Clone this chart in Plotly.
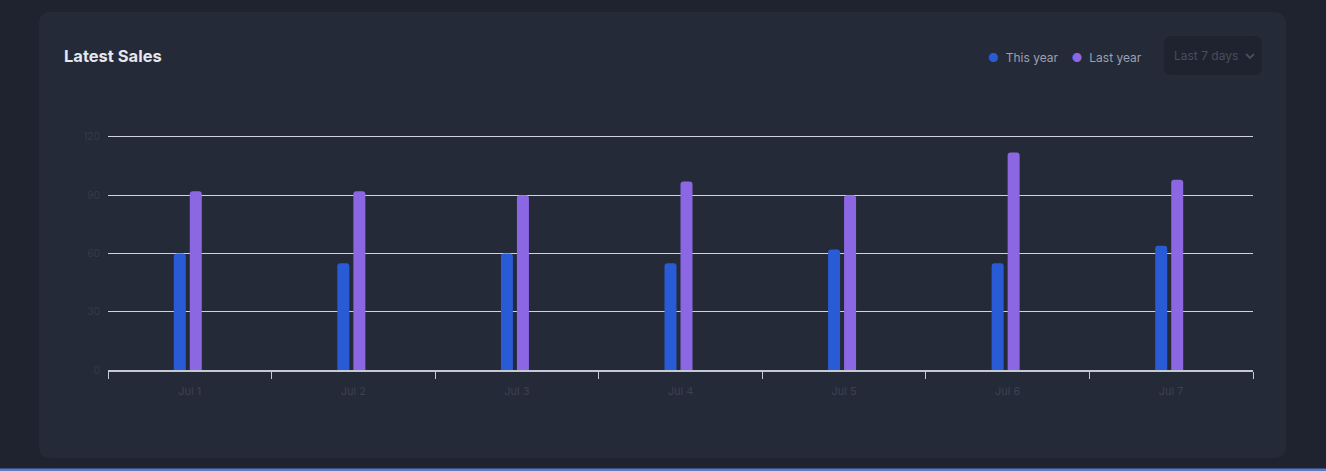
import plotly.graph_objects as go

days = ["Jul 1", "Jul 2", "Jul 3", "Jul 4", "Jul 5", "Jul 6", "Jul 7"]
this_year = [60, 55, 60, 55, 62, 55, 64]
last_year = [92, 92, 90, 97, 90, 112, 98]
y_ticks = [0, 30, 60, 90, 120]

BLUE = "#2a5bd7"
PURPLE = "#8b67e3"
CARD = "#252a38"
PAGE = "#1f2330"

# plot area in pixels: x 108..1253, y 134..370
PW, PH = 1145, 236
BAR_W = 12 / (PW / 7)   # bar width in category units


def px(x):
    return (x - 108) / PW


def py(y):
    return (370 - y) / PH


def rounded_rect(x0, y0, x1, y1, r):
    # pixel path relative to the plot origin, y pointing up
    return (f"M{x0 + r},{y0} L{x1 - r},{y0} Q{x1},{y0} {x1},{y0 + r} "
            f"L{x1},{y1 - r} Q{x1},{y1} {x1 - r},{y1} L{x0 + r},{y1} "
            f"Q{x0},{y1} {x0},{y1 - r} L{x0},{y0 + r} Q{x0},{y0} {x0 + r},{y0} Z")


fig = go.Figure()
fig.add_trace(go.Bar(x=days, y=this_year, name="This year",
                     width=BAR_W, offset=-BAR_W * 16 / 12,
                     marker=dict(color=BLUE, cornerradius=3, line_width=0)))
fig.add_trace(go.Bar(x=days, y=last_year, name="Last year",
                     width=BAR_W, offset=0,
                     marker=dict(color=PURPLE, cornerradius=3, line_width=0)))

pix = dict(xref="paper", yref="paper", xsizemode="pixel", ysizemode="pixel",
           xanchor=0, yanchor=0)
shapes = [
    # card
    dict(type="path", path=rounded_rect(-69, -88, 1178, 358, 12),
         fillcolor=CARD, line_width=0, layer="below", **pix),
    # dropdown box
    dict(type="path", path=rounded_rect(1056, 295, 1154, 334, 8),
         fillcolor="#1f2330", line_width=0, layer="below", **pix),
    # dropdown chevron
    dict(type="path", path="M1138,316 L1142,312 L1146,316",
         line=dict(color="#474d5e", width=1.8), **pix),
    # bottom strip, full width
    dict(type="rect", xref="paper", yref="paper", x0=px(0), x1=px(1326),
         y0=py(471), y1=py(468.5), fillcolor="#5a79c6", line_width=0),
]

annotations = [
    dict(text="<b>Latest Sales</b>", xref="paper", yref="paper", x=px(62), y=py(56),
         xanchor="left", yanchor="middle", showarrow=False,
         font=dict(family="Inter", size=16.5, color="#e4e7ee")),
    dict(text=f"<span style='color:{BLUE}'>●</span>  This year    "
              f"<span style='color:{PURPLE}'>●</span>  Last year",
         xref="paper", yref="paper", x=px(986), y=py(57),
         xanchor="left", yanchor="middle", showarrow=False,
         font=dict(family="Inter", size=12, color="#9aa1b1")),
    dict(text="Last 7 days", xref="paper", yref="paper", x=px(1172), y=py(55),
         xanchor="left", yanchor="middle", showarrow=False,
         font=dict(family="Inter", size=12, color="#474d5e")),
]

fig.update_layout(
    width=1326, height=471,
    margin=dict(l=108, r=73, t=134, b=101),
    paper_bgcolor=PAGE, plot_bgcolor=CARD,
    showlegend=False,
    shapes=shapes, annotations=annotations,
    font=dict(family="Inter", size=11),
    xaxis=dict(showgrid=False, showline=True, linecolor="#c5c9d2", linewidth=2,
               ticks="outside", tickson="boundaries", ticklen=7, tickcolor="#c5c9d2",
               ticklabelstandoff=10,
               tickfont=dict(color="#3b4152", size=11), fixedrange=True),
    yaxis=dict(range=[0, 121.5], tickvals=y_ticks, showgrid=True, gridcolor="#cfd3db",
               gridwidth=1, zeroline=False, showline=False, ticks="outside", ticklen=5,
               tickcolor=CARD, tickfont=dict(color="#343a4b", size=10), fixedrange=True),
)

fig.write_html("out.html", config={"displayModeBar": False},
               post_script="document.body.style.margin='0';"
                           "document.body.style.background='" + PAGE + "';")
